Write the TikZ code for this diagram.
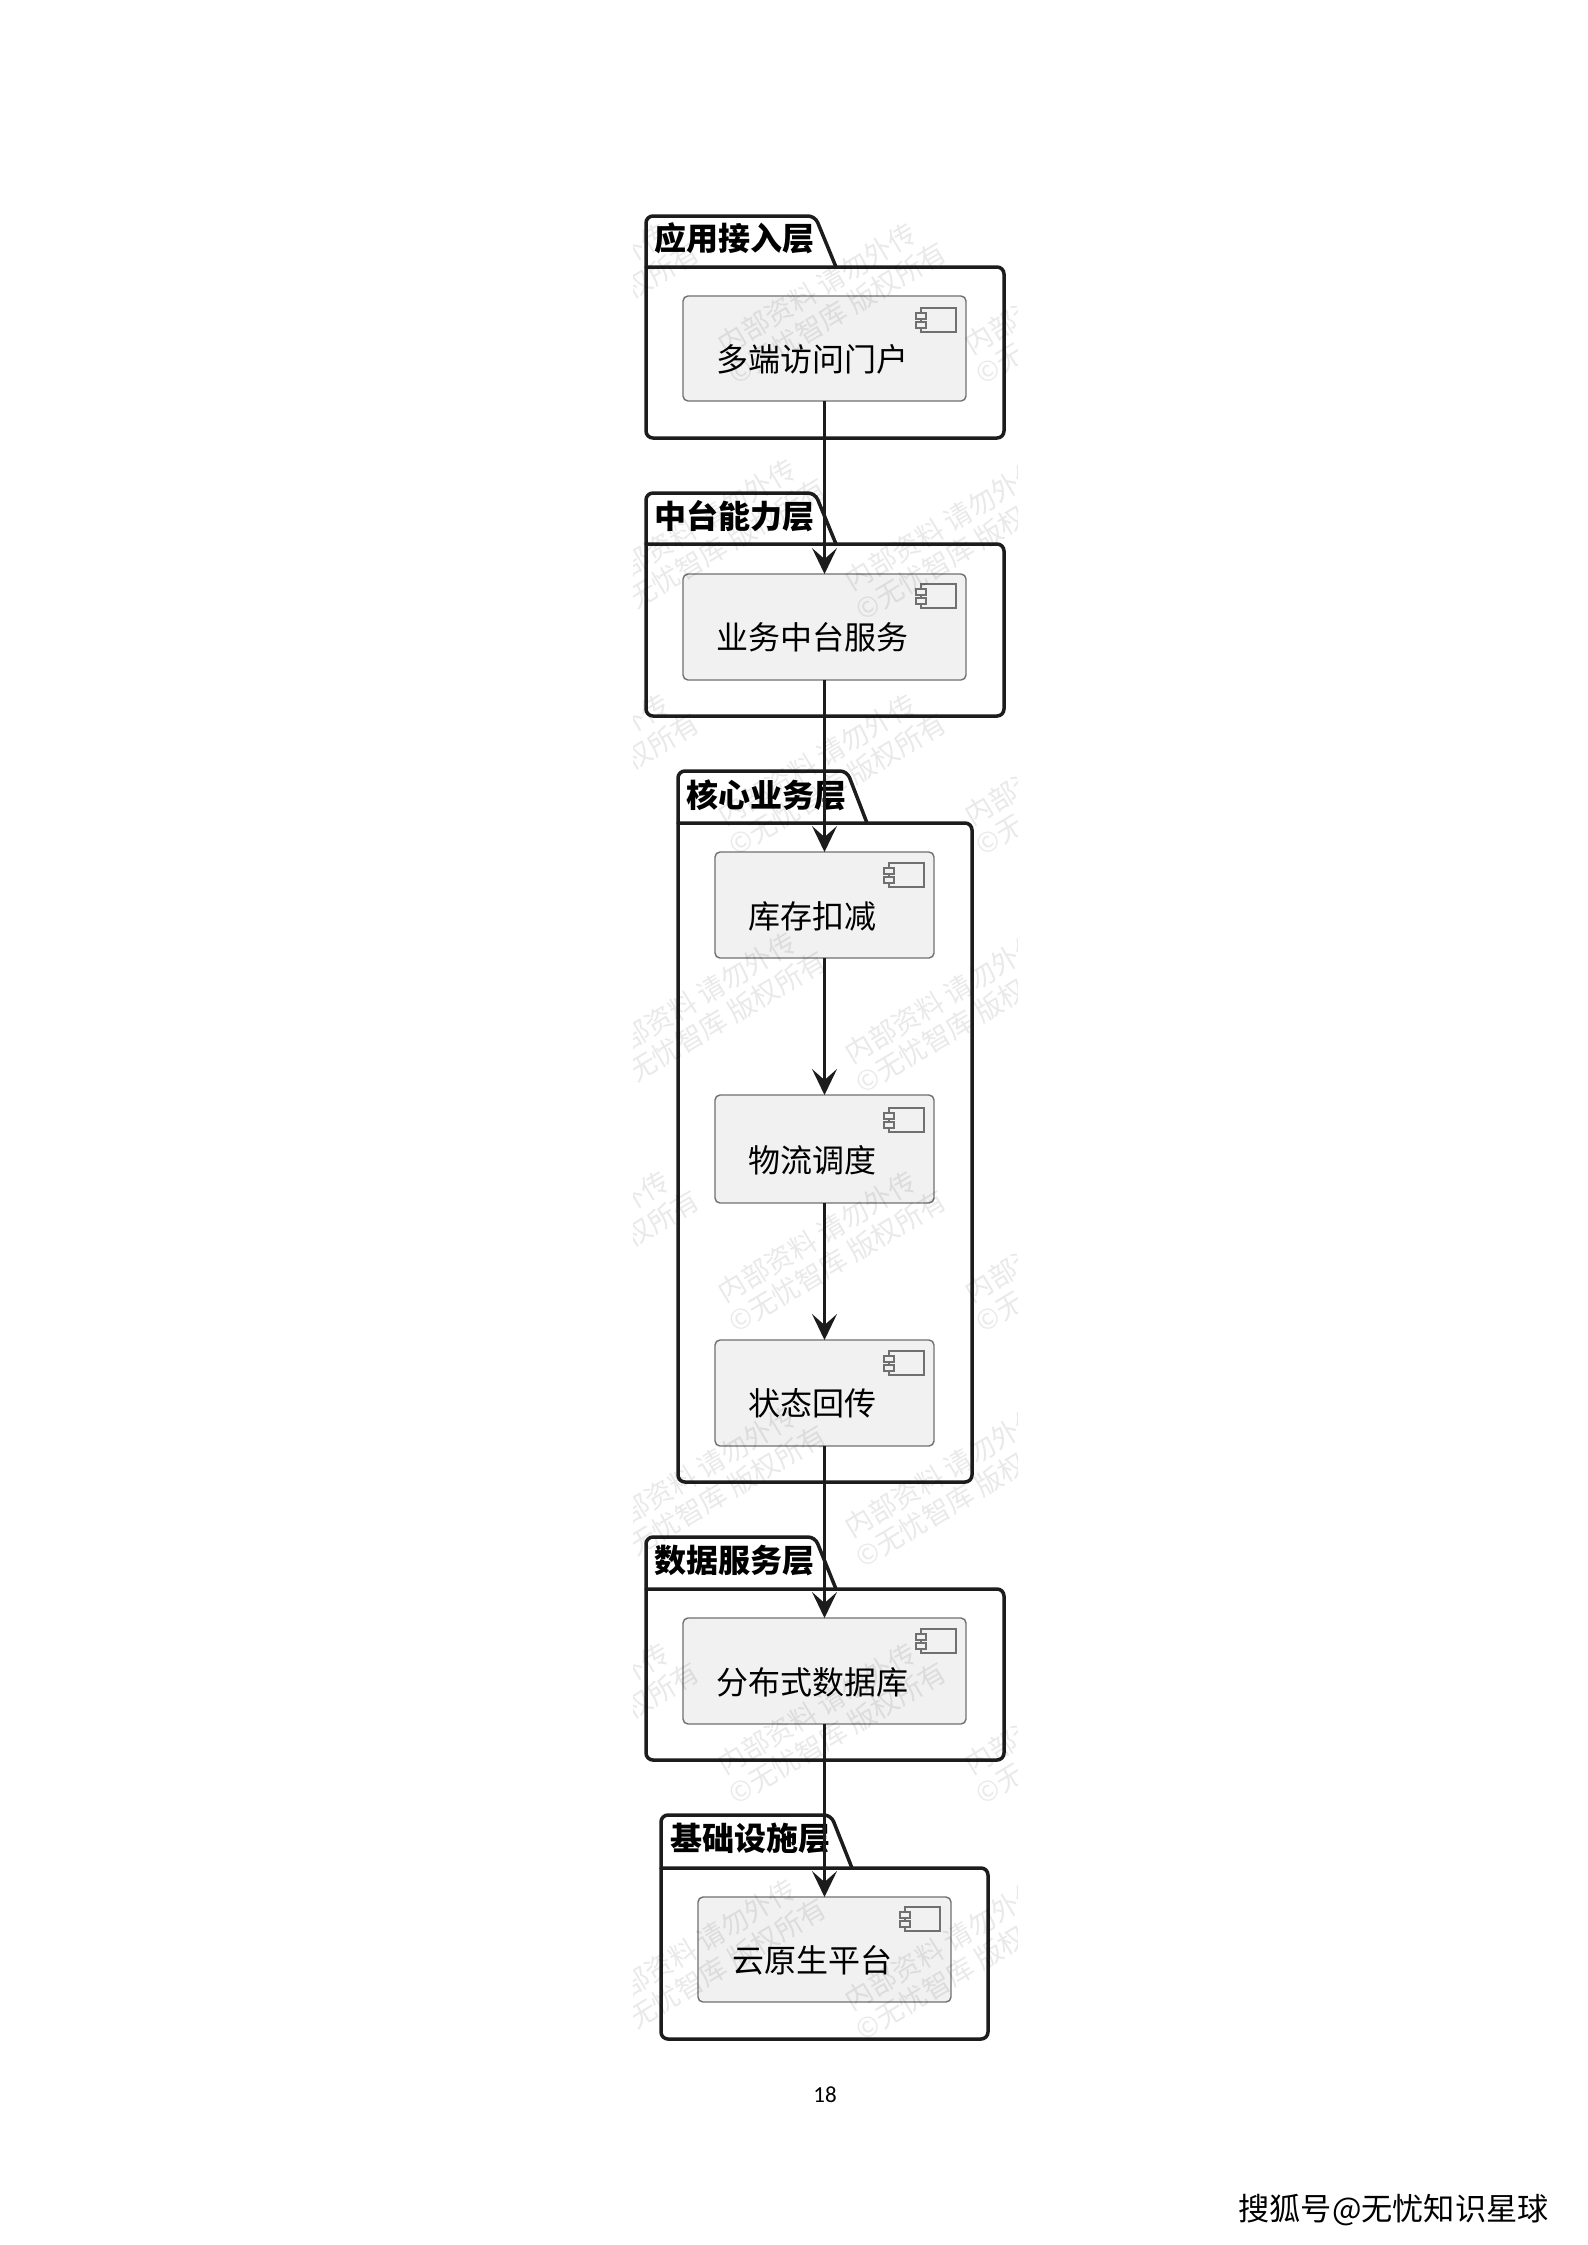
\documentclass[tikz,border=0pt]{standalone}
\usepackage{fontspec}
\usetikzlibrary{arrows.meta}
\setmainfont{Noto Sans CJK SC}
\newfontfamily\cjk{Noto Sans CJK SC}
\newfontfamily\pagefont{Carlito}
\definecolor{ink}{HTML}{1C1C1C}
\definecolor{boxline}{HTML}{707070}
\definecolor{boxfill}{HTML}{F1F1F1}
\tikzset{
  x=0.5pt,y=-0.5pt,
  pkgline/.style={draw=ink,line width=1.75pt,line cap=round,rounded corners=3.5pt},
  pkgtitle/.style={anchor=west,inner sep=0pt,font=\cjk\bfseries\fontsize{16}{16}\selectfont,text=black},
  comp/.style={draw=boxline,fill=boxfill,line width=0.7pt,rounded corners=2.5pt,inner sep=0pt,outer sep=0pt},
  comptext/.style={anchor=west,inner sep=0pt,font=\cjk\fontsize{16}{16}\selectfont,text=black},
  iconline/.style={draw=boxline,fill=boxfill,line width=0.7pt},
  flow/.style={draw=ink,line width=1.15pt,-{Stealth[length=13pt,width=12.5pt,inset=5.5pt]}},
  mark1/.style={anchor=west,inner sep=0pt,rotate=31,font=\cjk\fontsize{13.7}{14}\selectfont,text=black,text opacity=0.085},
}
\newcommand{\pkg}[8]{% name,L,tabtop,bodytop,R,bottom,tab1,tab2 (title added separately)
  \draw[pkgline] (#2,#4) -- (#2,#3) -- (#7,#3) -- (#8,#4);
  \draw[pkgline] (#2,#4) -- (#5,#4) -- (#5,#6) -- (#2,#6) -- (#2,#4);
}
\newcommand{\compicon}[2]{%
  \draw[iconline] (#1,#2) rectangle ++(35,24);
  \draw[iconline] (#1-5,#2+5) rectangle ++(10,6);
  \draw[iconline] (#1-5,#2+14) rectangle ++(10,6);
}
\begin{document}
\begin{tikzpicture}
\useasboundingbox (0,0) rectangle (1587,2245);
\fill[white] (0,0) rectangle (1587,2245);

% packages
\pkg{p1}{646}{216}{267}{1004}{438}{815}{836}
\node[pkgtitle] (t1) at (654.5,238) {应用接入层};
\pkg{p2}{646}{493}{544}{1004}{716}{815}{836}
\node[pkgtitle] (t2) at (654.5,516) {中台能力层};
\pkg{p3}{678}{771}{823}{972}{1482}{847}{867}
\node[pkgtitle] (t3) at (686.5,795) {核心业务层};
\pkg{p4}{646}{1537}{1589}{1004}{1760}{815}{836}
\node[pkgtitle] (t4) at (654.5,1560) {数据服务层};
\pkg{p5}{661}{1815}{1868}{988}{2039}{831}{852}
\node[pkgtitle] (t5) at (670.5,1838) {基础设施层};

% components
\node[comp,minimum width=141.5pt,minimum height=52.5pt] (c1) at (824.5,348.5) {};
\node[comp,minimum width=141.5pt,minimum height=53pt] (c2) at (824.5,627) {};
\node[comp,minimum width=109.5pt,minimum height=53pt] (c3) at (824.5,905) {};
\node[comp,minimum width=109.5pt,minimum height=54pt] (c4) at (824.5,1149) {};
\node[comp,minimum width=109.5pt,minimum height=53pt] (c5) at (824.5,1393) {};
\node[comp,minimum width=141.5pt,minimum height=53pt] (c6) at (824.5,1671) {};
\node[comp,minimum width=126.5pt,minimum height=52.5pt] (c7) at (824.5,1949.5) {};

\node[comptext] (l1) at (716.5,359) {多端访问门户};
\node[comptext] (l2) at (716.5,637) {业务中台服务};
\node[comptext] (l3) at (748.5,916) {库存扣减};
\node[comptext] (l4) at (748.5,1160) {物流调度};
\node[comptext] (l5) at (748.5,1403) {状态回传};
\node[comptext] (l6) at (716.5,1682) {分布式数据库};
\node[comptext] (l7) at (732.5,1960) {云原生平台};

\compicon{921}{308}
\compicon{921}{584}
\compicon{889}{863}
\compicon{889}{1108}
\compicon{889}{1351}
\compicon{921}{1629}
\compicon{905}{1907}

% connectors
\draw[flow] (c1) -- (c2);
\draw[flow] (c2) -- (c3);
\draw[flow] (c3) -- (c4);
\draw[flow] (c4) -- (c5);
\draw[flow] (c5) -- (c6);
\draw[flow] (c6) -- (c7);

% page number and footer
\node[inner sep=0pt,font=\pagefont\fontsize{11.5}{12}\selectfont,text=black] (pageno) at (825,2095) {18};
\node[anchor=west,inner sep=0pt,font=\cjk\fontsize{15.6}{16}\selectfont,text=black] (footer) at (1238,2210) {搜狐号@无忧知识星球};

% watermark
\begin{scope}
\clip (633,216) rectangle (1017,2045);
\foreach \wx/\wy [count=\wi] in {
  473/347,720/347,967/347,
  600/583,847/583,
  473/818,720/818,967/818,
  600/1056,847/1056,
  473/1295,720/1295,967/1295,
  600/1530,847/1530,
  473/1767,720/1767,967/1767,
  600/2003,847/2003}{
  \node[mark1] (wa\wi) at (\wx,\wy) {内部资料 请勿外传};
  \node[mark1] (wb\wi) at (\wx+11,\wy+30) {©无忧智库 版权所有};
}
\end{scope}
\end{tikzpicture}
\end{document}
